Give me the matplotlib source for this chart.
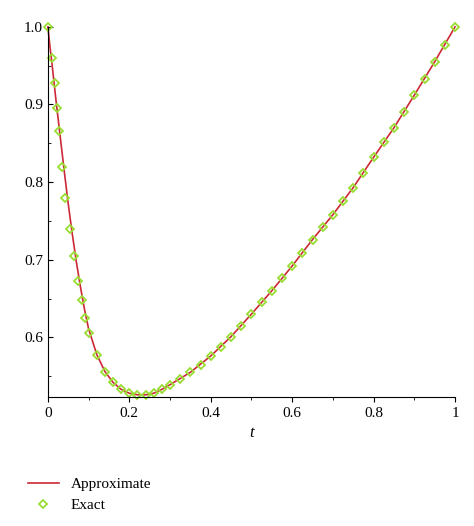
import matplotlib
matplotlib.use("Agg")
import matplotlib.pyplot as plt
from matplotlib.ticker import MultipleLocator

t_exact = [0, 0.01, 0.017, 0.022, 0.027, 0.035, 0.042, 0.055, 0.065, 0.075, 0.085, 0.092, 0.1,
           0.12, 0.14, 0.16, 0.18, 0.2, 0.22, 0.24, 0.26, 0.28,
           0.3, 0.325, 0.35, 0.375, 0.4, 0.425, 0.45, 0.475, 0.5, 0.525, 0.55, 0.575, 0.6,
           0.625, 0.65, 0.675, 0.7, 0.725, 0.75, 0.775, 0.8, 0.825, 0.85, 0.875, 0.9,
           0.925, 0.95, 0.975, 1.0]
y_exact = [1.0, 0.96, 0.927, 0.896, 0.866, 0.82, 0.78, 0.74, 0.705, 0.673, 0.648, 0.625, 0.605,
           0.577, 0.556, 0.542, 0.534, 0.528, 0.526, 0.526, 0.528, 0.533,
           0.539, 0.546, 0.555, 0.565, 0.576, 0.588, 0.601, 0.615, 0.630, 0.645, 0.660, 0.676, 0.692,
           0.709, 0.726, 0.742, 0.758, 0.775, 0.793, 0.812, 0.832, 0.851, 0.870, 0.890, 0.912,
           0.933, 0.955, 0.977, 1.0]
t_approx = [0, 0.005, 0.01, 0.02, 0.03, 0.04, 0.05, 0.06, 0.07, 0.08, 0.09, 0.1, 0.12, 0.14,
            0.16, 0.18, 0.2, 0.22, 0.24, 0.26, 0.28, 0.3, 0.35, 0.4, 0.45, 0.5, 0.55, 0.6,
            0.65, 0.7, 0.75, 0.8, 0.85, 0.9, 0.95, 1.0]
y_approx = [1.0, 0.975, 0.953, 0.905, 0.86, 0.815, 0.772, 0.733, 0.697, 0.665, 0.636, 0.611, 0.578, 0.556,
            0.542, 0.533, 0.528, 0.526, 0.526, 0.528, 0.533, 0.539, 0.555, 0.576, 0.601, 0.630, 0.660, 0.692,
            0.726, 0.758, 0.793, 0.832, 0.870, 0.912, 0.955, 1.0]

plt.rcParams['font.family'] = ['Liberation Serif']
fig = plt.figure(figsize=(4.74, 5.26), dpi=100)
ax = fig.add_axes([0.101, 0.245, 0.859, 0.704])
ax.plot(t_approx, y_approx, color='#cc2936', lw=1.2, label='Approximate', clip_on=False)
ax.plot(t_exact, y_exact, ls='none', marker='D', ms=3.8, mfc='none', mec='#99dd33', mew=1.3,
        label='Exact', clip_on=False)
ax.set_xlim(0, 1)
ax.set_ylim(0.523, 1.0)
for s in ['top', 'right']:
    ax.spines[s].set_visible(False)
ax.xaxis.set_minor_locator(MultipleLocator(0.1))
ax.yaxis.set_major_locator(MultipleLocator(0.1))
ax.yaxis.set_minor_locator(MultipleLocator(0.05))
ax.set_xticks([0, 0.2, 0.4, 0.6, 0.8, 1])
ax.set_xticklabels(['0', '0.2', '0.4', '0.6', '0.8', '1'])
ax.tick_params(axis='y', which='both', direction='in', labelsize=11)
ax.tick_params(axis='x', which='both', direction='out', labelsize=11)
ax.set_xlabel('t', style='italic', fontsize=12)
fig.legend(loc='lower left', bbox_to_anchor=(0.03, 0.0), frameon=False, fontsize=11)
fig.savefig('out.png')
